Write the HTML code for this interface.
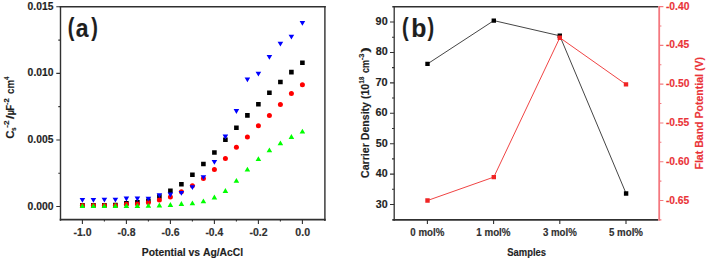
<!DOCTYPE html>
<html><head><meta charset="utf-8"><style>
html,body{margin:0;padding:0;background:#fff;}
body{width:707px;height:261px;overflow:hidden;}
svg{display:block;}
svg text{font-family:"Liberation Sans", sans-serif;font-weight:bold;font-kerning:none;font-variant-ligatures:none;}
</style></head><body>
<svg width="707" height="261" viewBox="0 0 707 261">
<rect width="707" height="261" fill="#fff"/>
<path d="M59.7 6.8H325.7M59.7 219.6H325.7" fill="none" stroke="#303030" stroke-width="1.6"/>
<path d="M60.5 6.0V220.79999999999998M324.9 6.0V221.0" fill="none" stroke="#303030" stroke-width="1.4"/>
<text x="27.64" y="209.50" font-size="10.20" fill="#1e1e1e" textLength="25.88" lengthAdjust="spacingAndGlyphs" stroke="#1e1e1e" stroke-width="0.15">0.000</text>
<text x="27.64" y="142.94" font-size="10.20" fill="#1e1e1e" textLength="25.74" lengthAdjust="spacingAndGlyphs" stroke="#1e1e1e" stroke-width="0.15">0.005</text>
<text x="27.64" y="76.37" font-size="10.20" fill="#1e1e1e" textLength="25.88" lengthAdjust="spacingAndGlyphs" stroke="#1e1e1e" stroke-width="0.15">0.010</text>
<text x="27.64" y="9.81" font-size="10.20" fill="#1e1e1e" textLength="25.74" lengthAdjust="spacingAndGlyphs" stroke="#1e1e1e" stroke-width="0.15">0.015</text>
<text x="73.44" y="235.60" font-size="10.20" fill="#303030" textLength="18.14" lengthAdjust="spacingAndGlyphs" stroke="#303030" stroke-width="0.15">-1.0</text>
<text x="117.44" y="235.60" font-size="10.20" fill="#303030" textLength="18.03" lengthAdjust="spacingAndGlyphs" stroke="#303030" stroke-width="0.15">-0.8</text>
<text x="161.44" y="235.60" font-size="10.20" fill="#303030" textLength="18.09" lengthAdjust="spacingAndGlyphs" stroke="#303030" stroke-width="0.15">-0.6</text>
<text x="205.45" y="235.60" font-size="10.20" fill="#303030" textLength="17.76" lengthAdjust="spacingAndGlyphs" stroke="#303030" stroke-width="0.15">-0.4</text>
<text x="249.44" y="235.60" font-size="10.20" fill="#303030" textLength="18.13" lengthAdjust="spacingAndGlyphs" stroke="#303030" stroke-width="0.15">-0.2</text>
<text x="295.33" y="235.60" font-size="10.20" fill="#303030" textLength="14.76" lengthAdjust="spacingAndGlyphs" stroke="#303030" stroke-width="0.15">0.0</text>
<path d="M56.3 206.50H60.5 M56.3 139.94H60.5 M56.3 73.37H60.5 M56.3 6.81H60.5 M58.3 173.22H60.5 M58.3 106.65H60.5 M58.3 40.09H60.5 M82.40 219.6V223.9 M126.40 219.6V223.9 M170.40 219.6V223.9 M214.40 219.6V223.9 M258.40 219.6V223.9 M302.40 219.6V223.9 M104.40 219.6V221.6 M148.40 219.6V221.6 M192.40 219.6V221.6 M236.40 219.6V221.6 M280.40 219.6V221.6" stroke="#303030" stroke-width="1.1" fill="none"/>
<text x="141.81" y="256.40" font-size="10.60" fill="#1e1e1e" textLength="101.43" lengthAdjust="spacingAndGlyphs" stroke="#1e1e1e" stroke-width="0.15">Potential vs Ag/AcCl</text>
<text x="67.70" y="36.00" font-size="25.50" fill="#1e1e1e" textLength="6.62" lengthAdjust="spacingAndGlyphs" stroke="#1e1e1e" stroke-width="0.15">(</text>
<text x="75.83" y="36.50" font-size="24.90" fill="#1e1e1e" textLength="12.73" lengthAdjust="spacingAndGlyphs" stroke="#1e1e1e" stroke-width="0.15">a</text>
<text x="91.17" y="36.00" font-size="25.50" fill="#1e1e1e" textLength="6.62" lengthAdjust="spacingAndGlyphs" stroke="#1e1e1e" stroke-width="0.15">)</text>
<g transform="translate(13.5,138.3) rotate(-90)"><text x="-0.47" y="0.00" font-size="11.20" fill="#1e1e1e" textLength="8.28" lengthAdjust="spacingAndGlyphs" stroke="#1e1e1e" stroke-width="0.15">C</text><text x="7.27" y="2.90" font-size="7.40" fill="#1e1e1e" textLength="3.59" lengthAdjust="spacingAndGlyphs" stroke="#1e1e1e" stroke-width="0.15">s</text><text x="10.48" y="-4.60" font-size="7.40" fill="#1e1e1e" textLength="7.24" lengthAdjust="spacingAndGlyphs" stroke="#1e1e1e" stroke-width="0.15">-2</text><text x="18.98" y="0.00" font-size="11.20" fill="#1e1e1e" textLength="4.05" lengthAdjust="spacingAndGlyphs" stroke="#1e1e1e" stroke-width="0.15">/</text><text x="22.99" y="0.00" font-size="11.20" fill="#1e1e1e" textLength="5.37" lengthAdjust="spacingAndGlyphs" stroke="#1e1e1e" stroke-width="0.15">µ</text><text x="27.88" y="0.00" font-size="11.20" fill="#1e1e1e" textLength="5.66" lengthAdjust="spacingAndGlyphs" stroke="#1e1e1e" stroke-width="0.15">F</text><text x="33.30" y="-4.60" font-size="7.40" fill="#1e1e1e" textLength="6.81" lengthAdjust="spacingAndGlyphs" stroke="#1e1e1e" stroke-width="0.15">-2</text><text x="44.32" y="0.00" font-size="11.20" fill="#1e1e1e" textLength="14.08" lengthAdjust="spacingAndGlyphs" stroke="#1e1e1e" stroke-width="0.15">cm</text><text x="58.52" y="-4.60" font-size="7.40" fill="#1e1e1e" textLength="3.11" lengthAdjust="spacingAndGlyphs" stroke="#1e1e1e" stroke-width="0.15">4</text></g>
<path d="M80.10 203.00h4.6v4.6h-4.6zM91.10 203.00h4.6v4.6h-4.6zM102.10 202.90h4.6v4.6h-4.6zM113.10 202.70h4.6v4.6h-4.6zM124.10 201.00h4.6v4.6h-4.6zM135.10 200.00h4.6v4.6h-4.6zM146.10 198.50h4.6v4.6h-4.6zM157.10 194.20h4.6v4.6h-4.6zM168.10 188.50h4.6v4.6h-4.6zM179.10 181.90h4.6v4.6h-4.6zM190.10 172.50h4.6v4.6h-4.6zM201.10 161.70h4.6v4.6h-4.6zM212.10 150.20h4.6v4.6h-4.6zM223.10 137.40h4.6v4.6h-4.6zM234.10 125.40h4.6v4.6h-4.6zM245.10 113.10h4.6v4.6h-4.6zM256.10 102.00h4.6v4.6h-4.6zM267.10 90.50h4.6v4.6h-4.6zM278.10 79.70h4.6v4.6h-4.6zM289.10 69.80h4.6v4.6h-4.6zM300.10 60.40h4.6v4.6h-4.6z" fill="#000"/>
<g fill="#ff0000"><circle cx="82.40" cy="205.60" r="2.5"/><circle cx="93.40" cy="205.60" r="2.5"/><circle cx="104.40" cy="205.60" r="2.5"/><circle cx="115.40" cy="205.50" r="2.5"/><circle cx="126.40" cy="204.30" r="2.5"/><circle cx="137.40" cy="204.00" r="2.5"/><circle cx="148.40" cy="202.60" r="2.5"/><circle cx="159.40" cy="200.10" r="2.5"/><circle cx="170.40" cy="197.00" r="2.5"/><circle cx="181.40" cy="191.80" r="2.5"/><circle cx="192.40" cy="185.80" r="2.5"/><circle cx="203.40" cy="178.50" r="2.5"/><circle cx="214.40" cy="169.40" r="2.5"/><circle cx="225.40" cy="158.60" r="2.5"/><circle cx="236.40" cy="147.30" r="2.5"/><circle cx="247.40" cy="136.90" r="2.5"/><circle cx="258.40" cy="125.80" r="2.5"/><circle cx="269.40" cy="115.40" r="2.5"/><circle cx="280.40" cy="104.40" r="2.5"/><circle cx="291.40" cy="93.60" r="2.5"/><circle cx="302.40" cy="84.80" r="2.5"/></g>
<path d="M79.60 197.90h5.6l-2.8 4.8zM90.60 197.90h5.6l-2.8 4.8zM101.60 197.80h5.6l-2.8 4.8zM112.60 197.70h5.6l-2.8 4.8zM123.60 196.60h5.6l-2.8 4.8zM134.60 196.60h5.6l-2.8 4.8zM145.60 196.80h5.6l-2.8 4.8zM156.60 193.20h5.6l-2.8 4.8zM167.60 192.60h5.6l-2.8 4.8zM178.60 191.00h5.6l-2.8 4.8zM189.60 185.30h5.6l-2.8 4.8zM200.60 175.20h5.6l-2.8 4.8zM211.60 160.00h5.6l-2.8 4.8zM222.60 134.60h5.6l-2.8 4.8zM233.60 109.10h5.6l-2.8 4.8zM244.60 77.40h5.6l-2.8 4.8zM255.60 71.80h5.6l-2.8 4.8zM266.60 55.00h5.6l-2.8 4.8zM277.60 41.80h5.6l-2.8 4.8zM288.60 34.80h5.6l-2.8 4.8zM299.60 21.00h5.6l-2.8 4.8z" fill="#0000ff"/>
<path d="M79.60 208.00h5.6l-2.8 -4.8zM90.60 208.00h5.6l-2.8 -4.8zM101.60 208.00h5.6l-2.8 -4.8zM112.60 207.90h5.6l-2.8 -4.8zM123.60 207.90h5.6l-2.8 -4.8zM134.60 207.90h5.6l-2.8 -4.8zM145.60 207.80h5.6l-2.8 -4.8zM156.60 207.40h5.6l-2.8 -4.8zM167.60 206.90h5.6l-2.8 -4.8zM178.60 205.90h5.6l-2.8 -4.8zM189.60 205.30h5.6l-2.8 -4.8zM200.60 203.20h5.6l-2.8 -4.8zM211.60 199.40h5.6l-2.8 -4.8zM222.60 192.90h5.6l-2.8 -4.8zM233.60 182.80h5.6l-2.8 -4.8zM244.60 171.50h5.6l-2.8 -4.8zM255.60 161.00h5.6l-2.8 -4.8zM266.60 152.20h5.6l-2.8 -4.8zM277.60 145.30h5.6l-2.8 -4.8zM288.60 138.90h5.6l-2.8 -4.8zM299.60 133.60h5.6l-2.8 -4.8z" fill="#00ff00"/>
<path d="M392.3 6.8H658.3000000000001M392.3 219.9H658.3000000000001" fill="none" stroke="#303030" stroke-width="1.6"/>
<path d="M394.2 6.0V220.70000000000002" fill="none" stroke="#303030" stroke-width="1.3"/>
<path d="M659.2 6.0V220.70000000000002" fill="none" stroke="#f4787f" stroke-width="1.8"/>
<text x="375.75" y="207.50" font-size="10.20" fill="#1e1e1e" textLength="11.88" lengthAdjust="spacingAndGlyphs" stroke="#1e1e1e" stroke-width="0.15">30</text>
<text x="375.84" y="177.09" font-size="10.20" fill="#1e1e1e" textLength="11.80" lengthAdjust="spacingAndGlyphs" stroke="#1e1e1e" stroke-width="0.15">40</text>
<text x="375.67" y="146.68" font-size="10.20" fill="#1e1e1e" textLength="11.97" lengthAdjust="spacingAndGlyphs" stroke="#1e1e1e" stroke-width="0.15">50</text>
<text x="375.60" y="116.27" font-size="10.20" fill="#1e1e1e" textLength="12.04" lengthAdjust="spacingAndGlyphs" stroke="#1e1e1e" stroke-width="0.15">60</text>
<text x="375.53" y="85.86" font-size="10.20" fill="#1e1e1e" textLength="12.11" lengthAdjust="spacingAndGlyphs" stroke="#1e1e1e" stroke-width="0.15">70</text>
<text x="375.66" y="55.45" font-size="10.20" fill="#1e1e1e" textLength="11.98" lengthAdjust="spacingAndGlyphs" stroke="#1e1e1e" stroke-width="0.15">80</text>
<text x="375.63" y="25.04" font-size="10.20" fill="#1e1e1e" textLength="12.02" lengthAdjust="spacingAndGlyphs" stroke="#1e1e1e" stroke-width="0.15">90</text>
<text x="410.32" y="235.60" font-size="10.20" fill="#303030" textLength="34.04" lengthAdjust="spacingAndGlyphs" stroke="#303030" stroke-width="0.15">0 mol%</text>
<text x="476.28" y="235.60" font-size="10.20" fill="#303030" textLength="34.27" lengthAdjust="spacingAndGlyphs" stroke="#303030" stroke-width="0.15">1 mol%</text>
<text x="542.88" y="235.60" font-size="10.20" fill="#303030" textLength="33.88" lengthAdjust="spacingAndGlyphs" stroke="#303030" stroke-width="0.15">3 mol%</text>
<text x="609.00" y="235.60" font-size="10.20" fill="#303030" textLength="33.95" lengthAdjust="spacingAndGlyphs" stroke="#303030" stroke-width="0.15">5 mol%</text>
<path d="M390.0 204.50H394.2 M390.0 174.09H394.2 M390.0 143.68H394.2 M390.0 113.27H394.2 M390.0 82.86H394.2 M390.0 52.45H394.2 M390.0 22.04H394.2 M392.0 189.29H394.2 M392.0 158.88H394.2 M392.0 128.48H394.2 M392.0 98.06H394.2 M392.0 67.66H394.2 M392.0 37.25H394.2 M427.4 219.9V224.1 M493.6 219.9V224.1 M559.8 219.9V224.1 M626.0 219.9V224.1" stroke="#303030" stroke-width="1.1" fill="none"/>
<text x="665.90" y="9.58" font-size="10.20" fill="#ea3338" textLength="23.53" lengthAdjust="spacingAndGlyphs" stroke="#ea3338" stroke-width="0.15">-0.40</text>
<text x="665.90" y="48.36" font-size="10.20" fill="#ea3338" textLength="23.39" lengthAdjust="spacingAndGlyphs" stroke="#ea3338" stroke-width="0.15">-0.45</text>
<text x="665.90" y="87.14" font-size="10.20" fill="#ea3338" textLength="23.53" lengthAdjust="spacingAndGlyphs" stroke="#ea3338" stroke-width="0.15">-0.50</text>
<text x="665.90" y="125.93" font-size="10.20" fill="#ea3338" textLength="23.39" lengthAdjust="spacingAndGlyphs" stroke="#ea3338" stroke-width="0.15">-0.55</text>
<text x="665.90" y="164.72" font-size="10.20" fill="#ea3338" textLength="23.53" lengthAdjust="spacingAndGlyphs" stroke="#ea3338" stroke-width="0.15">-0.60</text>
<text x="665.90" y="203.50" font-size="10.20" fill="#ea3338" textLength="23.39" lengthAdjust="spacingAndGlyphs" stroke="#ea3338" stroke-width="0.15">-0.65</text>
<path d="M659.2 6.58H663.4000000000001 M659.2 45.36H663.4000000000001 M659.2 84.14H663.4000000000001 M659.2 122.93H663.4000000000001 M659.2 161.72H663.4000000000001 M659.2 200.50H663.4000000000001 M659.2 25.97H661.4000000000001 M659.2 64.75H661.4000000000001 M659.2 103.54H661.4000000000001 M659.2 142.32H661.4000000000001 M659.2 181.11H661.4000000000001 M659.2 219.89H661.4000000000001" stroke="#f4787f" stroke-width="1.1" fill="none"/>
<text x="507.33" y="256.20" font-size="10.60" fill="#1e1e1e" textLength="38.76" lengthAdjust="spacingAndGlyphs" stroke="#1e1e1e" stroke-width="0.15">Samples</text>
<text x="402.00" y="36.00" font-size="25.50" fill="#1e1e1e" textLength="6.62" lengthAdjust="spacingAndGlyphs" stroke="#1e1e1e" stroke-width="0.15">(</text>
<text x="411.16" y="36.50" font-size="25.00" fill="#1e1e1e" textLength="15.15" lengthAdjust="spacingAndGlyphs" stroke="#1e1e1e" stroke-width="0.15">b</text>
<text x="427.42" y="36.00" font-size="25.50" fill="#1e1e1e" textLength="6.62" lengthAdjust="spacingAndGlyphs" stroke="#1e1e1e" stroke-width="0.15">)</text>
<g transform="translate(368.6,177.5) rotate(-90)"><text x="-0.43" y="0.00" font-size="11.20" fill="#1e1e1e" textLength="94.17" lengthAdjust="spacingAndGlyphs" stroke="#1e1e1e" stroke-width="0.15">Carrier Density (10</text><text x="94.12" y="-4.60" font-size="7.40" fill="#1e1e1e" textLength="6.66" lengthAdjust="spacingAndGlyphs" stroke="#1e1e1e" stroke-width="0.15">18</text><text x="104.45" y="0.00" font-size="11.20" fill="#1e1e1e" textLength="13.01" lengthAdjust="spacingAndGlyphs" stroke="#1e1e1e" stroke-width="0.15">cm</text><text x="117.21" y="-4.60" font-size="7.40" fill="#1e1e1e" textLength="6.66" lengthAdjust="spacingAndGlyphs" stroke="#1e1e1e" stroke-width="0.15">-3</text><text x="124.88" y="0.00" font-size="11.20" fill="#1e1e1e" textLength="5.55" lengthAdjust="spacingAndGlyphs" stroke="#1e1e1e" stroke-width="0.15">)</text></g>
<g transform="translate(703.1,168.8) rotate(-90)"><text x="-0.71" y="0.00" font-size="11.20" fill="#ea3338" textLength="112.53" lengthAdjust="spacingAndGlyphs" stroke="#ea3338" stroke-width="0.15">Flat Band Potential (V)</text></g>
<path d="M427.5 63.9L493.8 20.6L559.8 35.8L626.1 193.5" fill="none" stroke="#454545" stroke-width="1.0"/>
<path d="M425.3 61.699999999999996h4.4v4.4h-4.4zM491.6 18.400000000000002h4.4v4.4h-4.4zM557.5999999999999 33.599999999999994h4.4v4.4h-4.4zM623.9 191.3h4.4v4.4h-4.4z" fill="#000"/>
<path d="M427.5 200.5L493.8 177.1L559.8 37.7L626.0 84.4" fill="none" stroke="#f04444" stroke-width="1.0"/>
<path d="M425.3 198.3h4.4v4.4h-4.4zM491.6 174.9h4.4v4.4h-4.4zM557.5999999999999 35.5h4.4v4.4h-4.4zM623.8 82.2h4.4v4.4h-4.4z" fill="#f02424"/>
</svg>
</body></html>
